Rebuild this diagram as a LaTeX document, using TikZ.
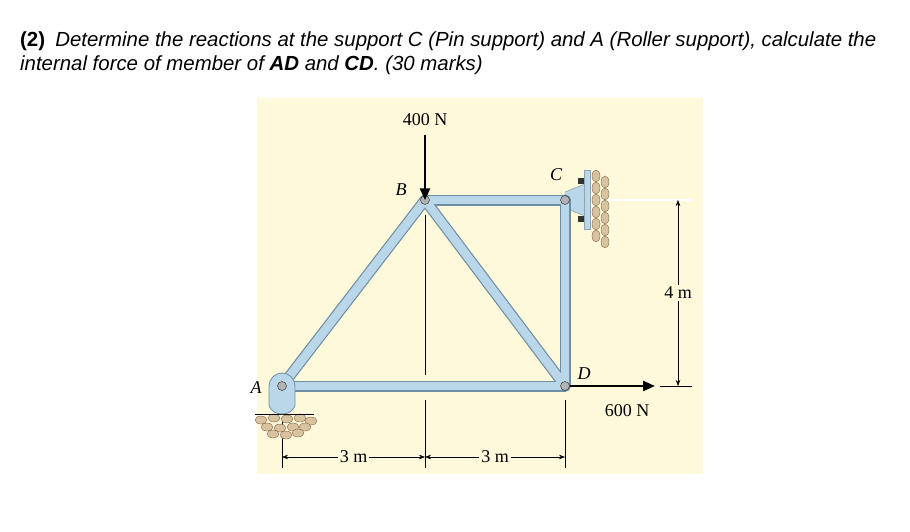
\documentclass[tikz,border=0pt]{standalone}
\usepackage{fontspec}
\setmainfont{Liberation Serif}
\newfontfamily\arial{Liberation Sans}
\usetikzlibrary{arrows.meta,shapes.geometric}
\definecolor{bg}{HTML}{FFF9DC}
\definecolor{mem}{HTML}{B9D7E8}
\definecolor{memd}{HTML}{6E8FA3}
\definecolor{rock}{HTML}{D8C3A0}
\tikzset{
  member/.style={line width=11pt,draw=memd,line cap=round},
  memberin/.style={line width=8.6pt,draw=mem},
  pin/.style={circle,fill=gray!60,draw=gray!30!black,inner sep=0pt,minimum size=9pt},
  dimline/.style={draw=black,line width=0.5pt},
  ext/.style={draw=black,line width=0.5pt},
  lbl/.style={font=\fontsize{18}{18}\selectfont},
  ilbl/.style={font=\itshape\fontsize{18}{18}\selectfont},
  force/.style={line width=2.5pt,-{Triangle[length=12pt,width=10pt]}},
  dimarrow/.style={dimline,{Stealth[length=6pt]}-{Stealth[length=6pt]}},
  rockst/.style={ellipse,fill=rock,draw=brown!60!black,line width=0.3pt,minimum width=12pt,minimum height=8pt,inner sep=0pt}
}
\begin{document}
\begin{tikzpicture}[x=1pt,y=-1pt]
\useasboundingbox (0,0) rectangle (910,532);
\fill[white] (0,0) rectangle (910,532);
\node[anchor=base west,font=\arial\fontsize{20.4}{24}\selectfont,inner sep=0pt] (t1) at (20,47) {\textbf{(2)}\enspace\textit{Determine the reactions at the support C (Pin support) and A (Roller support), calculate the}};
\node[anchor=base west,font=\arial\fontsize{20.4}{24}\selectfont,inner sep=0pt] (t2) at (20,71) {\textit{internal force of member of \textbf{AD} and \textbf{CD}. (30 marks)}};
\fill[bg] (257,98) rectangle (703,474);
\coordinate (A) at (282,386);
\coordinate (B) at (425,200);
\coordinate (C) at (565,200);
\coordinate (D) at (565,386);
% extension/dimension lines
\draw[ext] (425,215) -- (425,375);
\draw[ext] (425,400) -- (425,468);
\draw[ext] (282,418) -- (282,468);
\draw[ext] (565,400) -- (565,468);
\draw[draw=white,line width=1.2pt] (600,200) -- (692,200);
\draw[ext] (660,386) -- (692,386);
\draw[dimarrow] (282,457) -- node[fill=bg,lbl,inner sep=2pt] (d1) {3 m} (425,457);
\draw[dimarrow] (425,457) -- node[fill=bg,lbl,inner sep=2pt] (d2) {3 m} (565,457);
\draw[dimarrow] (678,200) -- node[fill=bg,lbl,inner sep=2pt] (d3) {4 m} (678,386);
% support A rocks
\foreach \x/\y in {261/420,274/418,287/419,300/418,311/421,267/427,280/428,293/427,305/427,273/434,286/435,298/433}
  \node[rockst] at (\x,\y) {};
\draw[ext] (255,414) -- (314,414);
% support C rocks
\foreach \y in {176,188,200,212,224,236}
  { \node[rockst,rotate=90] at (596,\y) {}; \node[rockst,rotate=90] at (605,\y+6) {}; }
\fill[mem,draw=memd] (565,192) -- (585,184) -- (585,216) -- (565,208) -- cycle;
\fill[memd!80] (584,170) rectangle (591,230);
\fill[mem] (585,171) rectangle (590,229);
\foreach \y in {181,219} \fill[gray!40!black] (578,\y-3) rectangle (584,\y+3);
% members
\foreach \p/\q in {A/B,B/C,C/D,A/D,B/D} \draw[member] (\p) -- (\q);
\foreach \p/\q in {A/B,B/C,C/D,A/D,B/D} \draw[memberin] (\p) -- (\q);
% support A body
\filldraw[fill=mem,draw=memd,line width=0.8pt] (269,386) arc[start angle=180,end angle=360,radius=13] -- (295,405) .. controls (293,412) and (287,414) .. (282,414) .. controls (277,414) and (271,412) .. (269,405) -- cycle;
\node[pin] (pA) at (A) {};
\node[pin] (pB) at (B) {};
\node[pin] (pC) at (C) {};
\node[pin] (pD) at (D) {};
% forces
\coordinate (Ftop) at (425,135);
\draw[force] (Ftop) -- ([yshift=-5pt]pB.north);
\node[lbl] (l400) at (425,120) {400 N};
\coordinate (Fend) at (655,386);
\draw[force] (pD.east) -- (Fend);
\node[lbl] (l600) at (627,411) {600 N};
% labels
\node[ilbl] (lA) at (256,388) {A};
\node[ilbl] (lB) at (401,190) {B};
\node[ilbl] (lC) at (556,175) {C};
\node[ilbl] (lD) at (584,374) {D};
\end{tikzpicture}
\end{document}
